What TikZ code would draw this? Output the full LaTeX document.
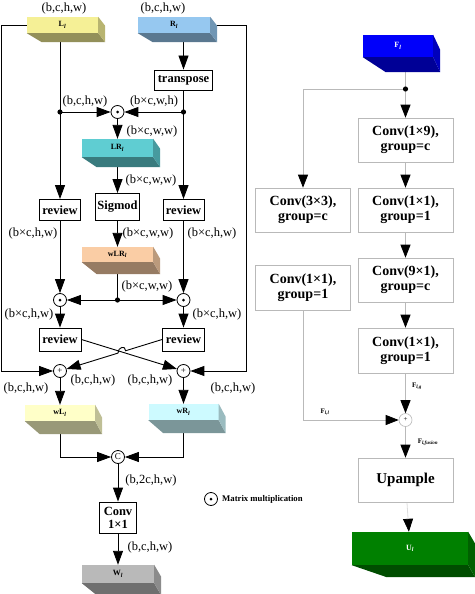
\documentclass[tikz,border=0pt]{standalone}
\usepackage{fontspec}
\setmainfont{Liberation Serif}
\usetikzlibrary{arrows.meta,backgrounds,calc,intersections}

\definecolor{lyel}{RGB}{245,240,150}
\definecolor{lblu}{RGB}{150,200,240}
\definecolor{lteal}{RGB}{95,205,210}
\definecolor{peach}{RGB}{250,205,165}
\definecolor{pyel}{RGB}{255,255,200}
\definecolor{pcya}{RGB}{205,250,255}
\definecolor{slate}{RGB}{185,185,185}
\definecolor{fblue}{RGB}{0,0,250}
\definecolor{ugreen}{RGB}{0,128,0}
\definecolor{lineg}{RGB}{185,185,185}

\tikzset{
  lab/.style={font=\fontsize{12.5}{13}\selectfont, inner sep=0pt},
  box/.style={draw, line width=0.9pt, fill=white, align=center, font=\bfseries\fontsize{12.5}{13}\selectfont, inner sep=0pt},
  cbox/.style={draw=lineg, line width=0.6pt, fill=white, minimum width=95pt, minimum height=44pt, align=center, font=\bfseries\fontsize{14}{15}\selectfont},
  slab/.style={inner sep=0pt, font=\bfseries\fontsize{8}{9}\selectfont},
  op/.style={circle, draw, line width=0.8pt, fill=white, minimum size=13pt, inner sep=0pt, font=\fontsize{9}{9}\selectfont},
  mul/.style={op, path picture={\fill [black] (path picture bounding box.center) circle (1.5pt);}},
  arr/.style={line width=0.9pt, -{Triangle[length=14pt,width=10pt]}},
  garr/.style={draw=lineg, line width=0.8pt, -{Triangle[length=13pt,width=10pt,black]}},
  flab/.style={font=\bfseries\fontsize{7}{8}\selectfont, inner sep=0pt},
}

% name, centre, width, height, colour, label, left slant, depth
\newcommand{\slab}[8]{%
  \node (#1) at (#2) [slab, fill=#5, minimum width=#3pt, minimum height=#4pt] {#6};
  \fill [#5!60!black] (#1.south west) -- ++(#7,#8) -- ($(#1.south east)+(7,#8)$) -- (#1.south east) -- cycle;
  \fill [#5!75!black] (#1.north east) -- ($(#1.north east)+(7,#8)$) -- ($(#1.south east)+(7,#8)$) -- (#1.south east) -- cycle;
}

\begin{document}
\begin{tikzpicture}[x=1pt,y=-1pt]
\useasboundingbox (0,0) rectangle (474,594);

% left: cross attention of the two views
\slab{Ll}{62.5,25}{71}{16}{lyel}{L\textsubscript{\itshape l}}{15}{9}
\slab{Rl}{174,25}{72}{16}{lblu}{R\textsubscript{\itshape l}}{15}{9}
\node (d1) at (64,8) [lab] {(b,c,h,w)};
\node (d2) at (163,8) [lab] {(b,c,h,w)};

\node (transp) at (183.5,80) [box, minimum width=58pt, minimum height=20pt] {transpose};
\coordinate (j1) at (60,112);
\coordinate (j2) at (183.5,112);
\node (mul1) at (117.5,112) [mul] {};
\node (d3) at (85,101) [lab] {(b,c,h,w)};
\node (d4) at (154,101) [lab] {(b×c,w,h)};
\node (d5) at (152,131) [lab] {(b×c,w,w)};

\slab{LRl}{117.5,148}{71}{18}{lteal}{LR\textsubscript{\itshape l}}{15}{10}
\node (d6) at (151,180) [lab] {(b×c,w,w)};

\node (rev1) at (60,210) [box, minimum width=41pt, minimum height=21pt] {review};
\node (sig) at (117.5,207) [box, minimum width=44pt, minimum height=27pt] {Sigmod};
\node (rev2) at (183.5,210) [box, minimum width=41pt, minimum height=21pt] {review};
\node (d7) at (33,233) [lab] {(b×c,h,w)};
\node (d8) at (148,233) [lab] {(b×c,w,w)};
\node (d9) at (212,233) [lab] {(b×c,h,w)};

\slab{wLRl}{117.5,254.5}{71}{15}{peach}{wLR\textsubscript{\itshape l}}{15}{12}
\node (d10) at (147,286) [lab] {(b×c,w,w)};

\coordinate (j3) at (117.5,300);
\node (mul2) at (60,300) [mul] {};
\node (mul3) at (183.5,300) [mul] {};
\node (d11) at (29,314) [lab] {(b×c,h,w)};
\node (d12) at (217,314) [lab] {(b×c,h,w)};

\node (rev3) at (60,339.5) [box, minimum width=42pt, minimum height=23pt] {review};
\node (rev4) at (183.5,339.5) [box, minimum width=42pt, minimum height=23pt] {review};

\node (plusL) at (60,371) [op] {+};
\node (plusR) at (183.5,371) [op] {+};
\coordinate (edgeL) at (1,371);
\coordinate (edgeR) at (246,371);
\node (d13) at (26,388) [lab] {(b,c,h,w)};
\node (d14) at (93,380) [lab] {(b,c,h,w)};
\node (d15) at (150,380) [lab] {(b,c,h,w)};
\node (d16) at (233,388) [lab] {(b,c,h,w)};

\slab{wLl}{60,413}{70}{16}{pyel}{wL\textsubscript{\itshape l}}{15}{13}
\slab{wRl}{183.5,412}{70}{16}{pcya}{wR\textsubscript{\itshape l}}{15}{13}

\node (cat) at (118,457) [op] {C};
\node (d17) at (151,480) [lab] {(b,2c,h,w)};
\node (conv) at (118,517.5) [box, minimum width=37pt, minimum height=31pt] {Conv\\1×1};
\node (d18) at (150,547) [lab] {(b,c,h,w)};
\slab{Wl}{118,574}{72}{18}{slate}{W\textsubscript{\itshape l}}{15}{12}

\node (lgd) at (211,499) [mul] {};
\node (lgdt) at (222,499) [anchor=west, inner sep=0pt, font=\bfseries\fontsize{8.7}{9}\selectfont] {Matrix multiplication};

\fill (j1) circle (2.6pt);
\fill (j2) circle (2.6pt);
\fill (j3) circle (2.6pt);

% right: feature branch
\slab{Fl}{398,46}{70}{22}{fblue}{\color{white}F\textsubscript{\itshape l}}{23}{15}
\coordinate (dotF) at (405.5,89);
\node (conv19) at (405.5,140) [cbox] {Conv(1×9),\\group=c};
\node (conv11a) at (405.5,210) [cbox] {Conv(1×1),\\group=1};
\node (conv33) at (303,210) [cbox] {Conv(3×3),\\group=c};
\node (conv91) at (405.5,280) [cbox] {Conv(9×1),\\group=c};
\node (conv11b) at (303,287.5) [cbox, minimum height=45pt] {Conv(1×1),\\group=1};
\node (conv11c) at (405.5,350.5) [cbox, minimum height=45pt] {Conv(1×1),\\group=1};
\node (plusF) at (405.5,420) [op, draw=lineg, line width=0.6pt, font=\fontsize{7}{7}\selectfont] {+};
\node (fg) at (417,386) [flab] {F\textsubscript{\itshape l,g}};
\node (fl) at (325,412) [flab] {F\textsubscript{\itshape l,l}};
\node (ff) at (428,442) [flab] {F\textsubscript{\itshape l,fusion}};
\node (ups) at (405.5,480) [cbox, font=\bfseries\fontsize{15}{16}\selectfont] {Upample};
\slab{Ul}{410,548.5}{116}{33}{ugreen}{\color{white}U\textsubscript{\itshape l}}{35}{12}
\fill (dotF) circle (2.6pt);

\begin{scope}[on background layer]
\draw [arr] (rev1 |- Ll.south) -- (rev1);
\draw [arr] (transp |- Rl.south) -- (transp);
\draw [arr] (transp) -- (rev2);
\draw [arr] (j1) -- (mul1);
\draw [arr] (j2) -- (mul1);
\draw [arr] (mul1) -- (LRl);
\draw [arr] (sig |- LRl.south) -- (sig);
\draw [arr] (sig) -- (wLRl);
\draw [line width=0.9pt] (j3 |- wLRl.south) -- (j3);
\draw [arr] (j3) -- (mul2);
\draw [arr] (j3) -- (mul3);
\draw [arr] (rev1) -- (mul2);
\draw [arr] (rev2) -- (mul3);
\draw [arr] (mul2) -- (rev3);
\draw [arr] (mul3) -- (rev4);
\path [name path=pa] (rev3.east) -- (plusR);
\path [name path=pb] (rev4.west) -- (plusL);
\path [name intersections={of=pa and pb, by=X}];
\draw [arr] (rev3.east) -- (plusR);
\draw [arr] (rev4.west) -- ($(X)!4pt!(rev4.west)$) .. controls +(0,-6) and +(0,-6) .. ($(X)!4pt!(plusL)$) -- (plusL);
\draw [arr] (Ll.west) -- (Ll.west -| edgeL) -- (edgeL) -- (plusL);
\draw [arr] (Rl.east) -- (Rl.east -| edgeR) -- (edgeR) -- (plusR);
\draw [arr] (plusL) -- (wLl);
\draw [arr] (plusR) -- (wRl);
\draw [arr] (wLl) |- (cat);
\draw [arr] (wRl) |- (cat);
\draw [arr] (cat) -- (conv);
\draw [arr] (conv) -- (Wl);

\draw [garr] (conv19 |- Fl.south) -- (conv19);
\draw [garr] (dotF) -| (conv33);
\draw [garr] (conv19) -- (conv11a);
\draw [garr] (conv11a) -- (conv91);
\draw [garr] (conv91) -- (conv11c);
\draw [garr] (conv11c) -- (plusF);
\draw [garr] (conv11b) |- (plusF);
\draw [garr] (plusF) -- (ups);
\draw [garr, draw=lineg!50] (ups) -- (Ul);
\end{scope}
\end{tikzpicture}
\end{document}
